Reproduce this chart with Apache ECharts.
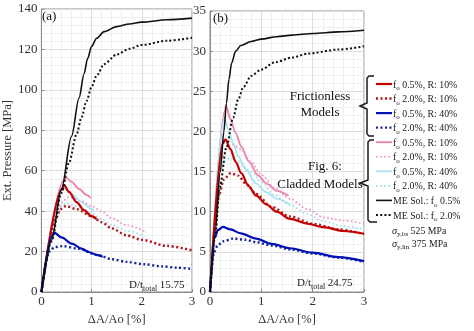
<!DOCTYPE html>
<html>
<head>
<meta charset="utf-8">
<script src="https://cdn.jsdelivr.net/npm/echarts@6/dist/echarts.min.js"></script>
<style>
  html, body { margin: 0; padding: 0; background: #fff; }
  #chart { width: 474px; height: 331px; }
</style>
</head>
<body>
<div id="chart"></div>
<script>
// Axis ticks
const xTicks = [0, 1, 2, 3];
const yTicksA = [0, 20, 40, 60, 80, 100, 120, 140];
const yTicksB = [0, 5, 10, 15, 20, 25, 30, 35];

// Panel (a): D/t_total 15.75  — [ΔA/Ao %, pressure MPa]
const aRed05 = [[0,0],[0.4,50.5],[0.45,53],[0.55,49.5],[0.7,44.5],[0.85,40.5],[1.0,37.5],[1.1,36]];
const aRed20 = [[0,0],[0.3,37],[0.38,41],[0.49,42.5],[0.7,41],[1.0,37.5],[1.2,34.5],[1.4,31.5],[1.7,28],[2.0,25.8],[2.5,22.8],[3,20.6]];
const aBlue05 = [[0,0],[0.22,28],[0.25,29.5],[0.4,27],[0.61,23.9],[0.8,21.5],[0.94,19.8],[1.1,18.4],[1.22,17.4]];
const aBlue20 = [[0,0],[0.16,20],[0.26,22.2],[0.42,22.7],[0.74,21.4],[1.13,18.2],[1.4,16.2],[1.7,14.9],[2.05,13.7],[2.4,12.7],[2.7,12],[3,11.4]];
const aPink05 = [[0,0],[0.44,55],[0.5,56.5],[0.6,54.5],[0.75,51],[0.9,48],[0.98,46.5]];
const aPink20 = [[0,0],[0.33,41],[0.45,45.5],[0.55,47],[0.8,45],[1.0,42.5],[1.2,40],[1.4,36.5],[1.7,33],[2.1,29.5]];
const aCyan05 = [[0,0],[0.4,50],[0.45,51.5],[0.6,48.5],[0.8,44.5],[1.0,41],[1.05,40.2]];
const aCyan20 = [[0,0],[0.32,39.5],[0.42,43],[0.5,44],[0.7,42.5],[1.0,39],[1.2,36],[1.4,33.2],[1.7,30.3],[2.05,27.6]];
const aMe05 = [[0,0],[0.2,25.6],[0.4,51],[0.6,77],[0.75,96],[0.85,108],[0.92,115.5],[1.0,121.5],[1.1,125.5],[1.25,128.8],[1.5,131.3],[1.75,132.6],[2,133.5],[2.5,134.7],[3,135.5]];
const aMe20 = [[0,0],[0.2,25],[0.4,49],[0.55,64],[0.7,78],[0.8,86.5],[0.9,94.5],[1.0,101.5],[1.1,107],[1.25,112.8],[1.5,117.5],[1.75,120.3],[2,122.2],[2.5,124.3],[3,125.8]];

// Panel (b): D/t_total 24.75
const bRed05 = [[0,0],[0.25,18.5],[0.3,19],[0.4,17.8],[0.5,16.2],[0.61,14.8],[0.75,13.2],[0.9,12],[1.1,10.9],[1.3,10],[1.56,9.1],[1.9,8.5],[2.21,8.07],[2.6,7.6],[3,7.25]];
const bRed20 = [[0,0],[0.17,12],[0.27,14],[0.4,14.8],[0.55,14.5],[0.7,13.5],[0.9,12.2],[1.2,10.6],[1.56,9.4],[2,8.5],[2.5,7.8],[3,7.2]];
const bBlue05 = [[0,0],[0.1,6.8],[0.15,7.7],[0.25,8.1],[0.4,7.8],[0.6,7.3],[0.9,6.65],[1.2,6.0],[1.56,5.45],[2.0,4.9],[2.5,4.35],[3,3.85]];
const bBlue20 = [[0,0],[0.08,5],[0.15,5.8],[0.25,6.3],[0.45,6.65],[0.7,6.5],[0.9,6.2],[1.2,5.8],[1.56,5.3],[2,4.8],[2.5,4.3],[3,3.75]];
const bPink05 = [[0,0],[0.29,22.6],[0.31,23.2],[0.4,21.5],[0.5,19.8],[0.61,18.1],[0.75,16.3],[0.94,14.5],[1.1,13.5],[1.3,12.6],[1.53,12]];
const bPink20 = [[0,0],[0.22,16.5],[0.32,17.8],[0.45,18.3],[0.6,17.8],[0.8,16.2],[1.0,14.6],[1.25,13],[1.56,11.6],[1.9,10.3],[2.21,9.3],[2.6,8.9],[3,8.5]];
const bCyan05 = [[0,0],[0.26,21.2],[0.28,21.7],[0.35,20.3],[0.45,18.5],[0.55,16.9],[0.7,15.2],[0.9,13.5],[1.1,12.4],[1.3,11.6],[1.56,10.9]];
const bCyan20 = [[0,0],[0.2,15],[0.3,16.4],[0.4,16.7],[0.55,16.3],[0.8,15],[1.0,13.7],[1.25,12.1],[1.56,10.8],[1.9,9.7],[2.21,8.8],[2.6,8.2],[3,7.8]];
const bMe05 = [[0,0],[0.1,7.5],[0.2,15],[0.27,20],[0.32,23.5],[0.37,26.5],[0.42,28.5],[0.5,30],[0.6,30.7],[0.8,31.2],[1.0,31.5],[1.3,31.8],[1.6,32],[2,32.2],[2.5,32.4],[3,32.6]];
const bMe20 = [[0,0],[0.1,7],[0.19,13],[0.32,18],[0.45,21.7],[0.55,24],[0.65,25.5],[0.8,26.9],[1.0,27.7],[1.26,28.6],[1.6,29.2],[1.91,29.7],[2.5,30.2],[3,30.6]];

// Legend entries (rich text with subscript "o")
const legendKeys = ['red05','red20','blue05','blue20','pink05','pink20','cyan05','cyan20','me05','me20'];
const legendText = {
  red05: '{t|f}{s|o}{t| 0.5%, R: 10%}',
  red20: '{t|f}{s|o}{t| 2.0%, R: 10%}',
  blue05: '{t|f}{s|o}{t| 0.5%, R: 40%}',
  blue20: '{t|f}{s|o}{t| 2.0%, R: 40%}',
  pink05: '{t|f}{s|o}{t| 0.5%, R: 10%}',
  pink20: '{t|f}{s|o}{t| 2.0%, R: 10%}',
  cyan05: '{t|f}{s|o}{t| 0.5%, R: 40%}',
  cyan20: '{t|f}{s|o}{t| 2.0%, R: 40%}',
  me05: '{t|ME Sol.: f}{s|o}{t| 0.5%}',
  me20: '{t|ME Sol.: f}{s|o}{t| 2.0%}'
};

const FONT = 'Liberation Serif';
const styles = {
  red05:  { color: '#c40000', width: 2.2, type: 'solid' },
  red20:  { color: '#b3121a', width: 2.4, type: [2, 2.5] },
  blue05: { color: '#0010b4', width: 2.2, type: 'solid' },
  blue20: { color: '#13239a', width: 2.4, type: [2, 2.5] },
  pink05: { color: '#ee7fb0', width: 1.8, type: 'solid' },
  pink20: { color: '#f08ec0', width: 1.6, type: [1.6, 2.4] },
  cyan05: { color: '#a6e2f2', width: 1.8, type: 'solid' },
  cyan20: { color: '#9fdcf0', width: 1.6, type: [1.6, 2.4] },
  me05:   { color: '#111111', width: 1.6, type: 'solid' },
  me20:   { color: '#111111', width: 2.0, type: [2, 2.2] }
};

function mk(key, data, idx) {
  const s = styles[key];
  return {
    name: key, type: 'line', data: data,
    xAxisIndex: idx, yAxisIndex: idx,
    showSymbol: false, symbol: 'none', smooth: 0.3, smoothMonotone: 'x',
    lineStyle: { color: s.color, width: s.width, type: s.type },
    itemStyle: { color: s.color },
    emphasis: { disabled: true },
    animation: false
  };
}

function xAxis(idx) {
  return {
    type: 'value', gridIndex: idx, min: xTicks[0], max: xTicks[xTicks.length - 1], interval: 1,
    name: 'ΔA/Ao [%]', nameLocation: 'middle', nameGap: 21,
    nameTextStyle: { fontFamily: FONT, fontSize: 12.5, color: '#333' },
    axisLine: { show: true, lineStyle: { color: '#8a8a8a', width: 1 } },
    axisTick: { show: true, inside: true, length: 3, lineStyle: { color: '#8a8a8a' } },
    axisLabel: { fontFamily: FONT, fontSize: 13, color: '#333', margin: 3 },
    splitLine: { show: true, lineStyle: { color: '#dcdcdc', width: 1 } },
    minorTick: { show: false, splitNumber: 5 },
    minorSplitLine: { show: true, lineStyle: { color: '#efefef', width: 1 } }
  };
}
function yAxis(idx, ticks, name) {
  return {
    type: 'value', gridIndex: idx, min: ticks[0], max: ticks[ticks.length - 1],
    interval: ticks[1] - ticks[0],
    name: name, nameLocation: 'middle', nameGap: 16,
    nameTextStyle: { fontFamily: FONT, fontSize: 12.5, color: '#333' },
    axisLine: { show: true, lineStyle: { color: '#8a8a8a', width: 1 } },
    axisTick: { show: true, inside: true, length: 3, lineStyle: { color: '#8a8a8a' } },
    axisLabel: { fontFamily: FONT, fontSize: 13, color: '#333', margin: 4 },
    splitLine: { show: true, lineStyle: { color: '#dcdcdc', width: 1 } },
    minorTick: { show: false, splitNumber: 5 },
    minorSplitLine: { show: true, lineStyle: { color: '#efefef', width: 1 } }
  };
}

const subRich = (size, drop) => ({
  t: { fontFamily: FONT, fontSize: size, fill: '#1a1a1a', lineHeight: size + 1 },
  s: { fontFamily: FONT, fontSize: size * 0.72, fill: '#1a1a1a', lineHeight: size * 0.72, padding: [drop, 0, 0, 0] },
  g: { fontFamily: FONT, fontSize: size + 0.5, fontStyle: 'italic', fill: '#1a1a1a', lineHeight: size + 1 }
});

// Legend block: swatch line + label, drawn at fixed row pitch
const legendRows = [];
legendKeys.forEach((k, i) => {
  const y = 84 + i * 14.55;
  const s = styles[k];
  legendRows.push({
    type: 'line', z: 100, shape: { x1: 376, y1: y, x2: 392, y2: y },
    style: { stroke: s.color, lineWidth: s.width, lineDash: s.type === 'solid' ? null : s.type }
  });
  legendRows.push({
    type: 'text', z: 100, x: 393, y: y + 1,
    style: { text: legendText[k], rich: subRich(9.8, 7), verticalAlign: 'middle', align: 'left' }
  });
});

const chart = echarts.init(document.getElementById('chart'), null, { renderer: 'canvas' });

const braceStyle = { stroke: '#1a1a1a', lineWidth: 1.5, fill: null };
const plainText = (x, y, text, align) => ({
  type: 'text', z: 100, x: x, y: y,
  style: { text: text, fontFamily: FONT, fontSize: 13, fill: '#111', align: align || 'center', verticalAlign: 'middle' }
});

chart.setOption({
  backgroundColor: '#ffffff',
  animation: false,
  grid: [
    { left: 38, top: 9, width: 154, height: 288, show: true, borderColor: '#8a8a8a', borderWidth: 1, backgroundColor: '#fff' },
    { left: 210, top: 11, width: 154, height: 287, show: true, borderColor: '#8a8a8a', borderWidth: 1, backgroundColor: '#fff' }
  ],
  xAxis: [xAxis(0), xAxis(1)],
  yAxis: [yAxis(0, yTicksA, 'Ext. Pressure [MPa]'), yAxis(1, yTicksB, '')],
  series: [
    mk('pink05', aPink05, 0), mk('pink20', aPink20, 0), mk('cyan05', aCyan05, 0), mk('cyan20', aCyan20, 0),
    mk('red20', aRed20, 0), mk('red05', aRed05, 0), mk('blue20', aBlue20, 0), mk('blue05', aBlue05, 0),
    mk('me20', aMe20, 0), mk('me05', aMe05, 0),
    mk('pink05', bPink05, 1), mk('pink20', bPink20, 1), mk('cyan05', bCyan05, 1), mk('cyan20', bCyan20, 1),
    mk('red20', bRed20, 1), mk('red05', bRed05, 1), mk('blue20', bBlue20, 1), mk('blue05', bBlue05, 1),
    mk('me20', bMe20, 1), mk('me05', bMe05, 1)
  ],
  graphic: [
    plainText(42, 17, '(a)', 'left'),
    plainText(213, 19, '(b)', 'left'),
    { type: 'text', z: 100, x: 129, y: 285, style: { text: '{t|D/t}{s|total}{t| 15.75}', rich: subRich(11, 8), verticalAlign: 'middle' } },
    { type: 'text', z: 100, x: 297, y: 283, style: { text: '{t|D/t}{s|total}{t| 24.75}', rich: subRich(11, 8), verticalAlign: 'middle' } },
    plainText(320, 97, 'Frictionless'),
    plainText(320, 113, 'Models'),
    plainText(325, 167, 'Fig. 6:'),
    plainText(320, 185, 'Cladded Models'),
    // Brace: frictionless group
    { type: 'polyline', z: 100, shape: { points: [[374,76],[369,76],[367,78],[367,103],[360,106],[367,109],[367,134],[369,136],[374,136]] }, style: braceStyle },
    // Brace: cladded group
    { type: 'polyline', z: 100, shape: { points: [[374,140],[370,140],[368,142],[368,180],[360,183],[368,186],[368,220],[370,222],[377,222]] }, style: braceStyle },
    { type: 'text', z: 100, x: 392, y: 231, style: { text: '{g|σ}{s|y,bs}{t| 525 MPa}', rich: subRich(9.8, 7), verticalAlign: 'middle' } },
    { type: 'text', z: 100, x: 392, y: 244, style: { text: '{g|σ}{s|y,lin}{t| 375 MPa}', rich: subRich(9.8, 7), verticalAlign: 'middle' } }
  ].concat(legendRows)
});
</script>
</body>
</html>
